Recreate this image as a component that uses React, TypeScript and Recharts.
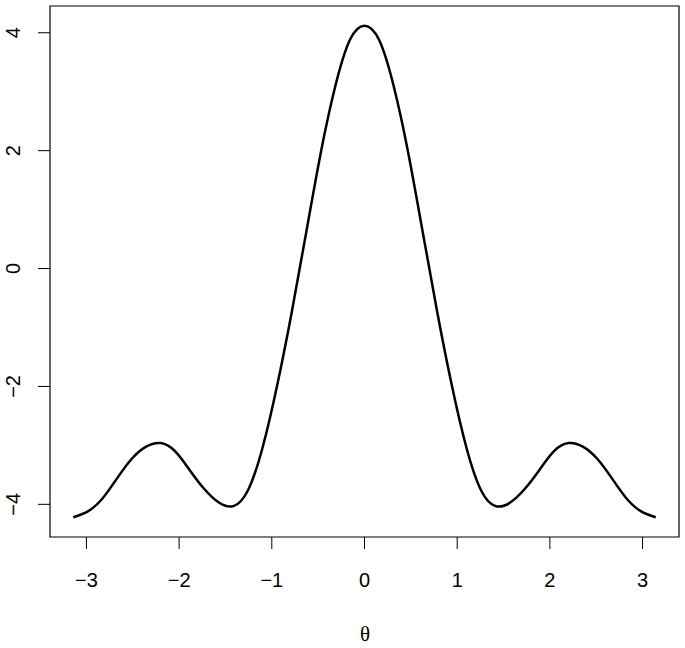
import React from 'react';
import { LineChart, Line, XAxis, YAxis, ReferenceArea } from 'recharts';

// values
const theta = [
  -3.142, -2.985, -2.827, -2.67, -2.513, -2.356, -2.199, -2.042, -1.885, -1.728, -1.571,
  -1.414, -1.257, -1.1, -0.942, -0.785, -0.628, -0.471, -0.314, -0.157, 0,
  0.157, 0.314, 0.471, 0.628, 0.785, 0.942, 1.1, 1.257, 1.414, 1.571,
  1.728, 1.885, 2.042, 2.199, 2.356, 2.513, 2.67, 2.827, 2.985, 3.142,
];
const fValues = [
  -4.22, -4.12, -3.9, -3.56, -3.23, -3.02, -2.96, -3.1, -3.42, -3.74, -3.97,
  -4.03, -3.76, -3.04, -1.98, -0.74, 0.62, 1.97, 3.1, 3.88, 4.12,
  3.88, 3.1, 1.97, 0.62, -0.74, -1.98, -3.04, -3.76, -4.03, -3.97,
  -3.74, -3.42, -3.1, -2.96, -3.02, -3.23, -3.56, -3.9, -4.12, -4.22,
];
const xTicks = [-3, -2, -1, 0, 1, 2, 3];
const yTicks = [-4, -2, 0, 2, 4];

const xDomain: [number, number] = [-3.393, 3.393];
const yDomain: [number, number] = [-4.554, 4.454];

const data = theta.map((t, i) => ({ theta: t, f: fValues[i] }));

const fmt = (v: number) => (v < 0 ? `\u2212${-v}` : `${v}`);
const font = '"Liberation Sans", Arial, Helvetica, sans-serif';

function XTick(props: any) {
  const { x, y, payload } = props;
  return (
    <text x={x} y={y + 36} textAnchor="middle" fill="#000" fontSize={20} fontFamily={font}>
      {fmt(payload.value)}
    </text>
  );
}

function YTick(props: any) {
  const { x, y, payload } = props;
  const bx = x - 16;
  return (
    <text
      x={bx}
      y={y}
      transform={`rotate(-90, ${bx}, ${y})`}
      textAnchor="middle"
      fill="#000"
      fontSize={20}
      fontFamily={font}
    >
      {fmt(payload.value)}
    </text>
  );
}

export default function App() {
  return (
    <div style={{ position: 'absolute', left: 0, top: 0, width: 685, height: 648, background: '#fff' }}>
      <LineChart width={685} height={648} data={data} margin={{ top: 6, right: 6, bottom: 0, left: 0 }}>
        <XAxis
          dataKey="theta"
          type="number"
          domain={xDomain}
          ticks={xTicks}
          allowDataOverflow
          axisLine={false}
          tickLine={{ stroke: '#000', strokeWidth: 1 }}
          tickSize={12}
          tick={<XTick />}
          height={111}
          interval={0}
        />
        <YAxis
          type="number"
          domain={yDomain}
          ticks={yTicks}
          allowDataOverflow
          axisLine={false}
          tickLine={{ stroke: '#000', strokeWidth: 1 }}
          tickSize={12}
          tick={<YTick />}
          width={50}
          interval={0}
        />
        <ReferenceArea
          x1={xDomain[0]}
          x2={xDomain[1]}
          y1={yDomain[0]}
          y2={yDomain[1]}
          fill="none"
          fillOpacity={0}
          stroke="#000"
          strokeWidth={1.2}
        />
        <Line
          type="natural"
          dataKey="f"
          stroke="#000"
          strokeWidth={2.5}
          dot={false}
          isAnimationActive={false}
        />
        <text x={365} y={641} textAnchor="middle" fontSize={21} fontFamily='"Liberation Serif", "DejaVu Serif", serif' fill="#000">
          θ
        </text>
      </LineChart>
    </div>
  );
}
